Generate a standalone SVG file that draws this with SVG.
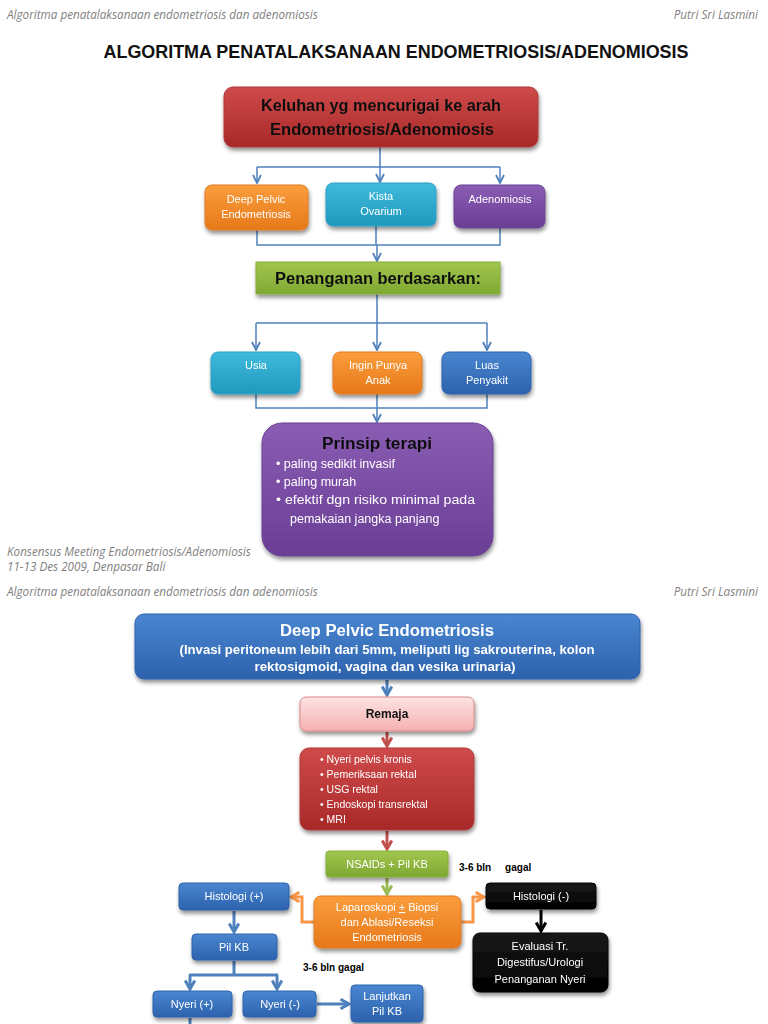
<svg xmlns="http://www.w3.org/2000/svg" width="768" height="1024" viewBox="0 0 768 1024">
<defs>
<style>
.hdr{font-family:"Open Sans","Liberation Sans",sans-serif;font-style:italic;font-size:11.7px;fill:#7f7f7f}
.t{font-family:"Liberation Sans",Arial,sans-serif;text-anchor:middle}
.w{fill:#ffffff}
.k{fill:#111111}
.b{font-weight:bold}
.s11{font-size:11px}
.bl{font-family:"Liberation Sans",Arial,sans-serif;font-size:10.5px;fill:#ffffff}
.c1{fill:none;stroke:#4f81bd;stroke-width:1.5}
.c3{fill:none;stroke-width:3}
</style>
<filter id="sh" x="-10%" y="-10%" width="130%" height="140%">
<feGaussianBlur in="SourceAlpha" stdDeviation="2"/>
<feOffset dx="1" dy="3" result="o"/>
<feComponentTransfer><feFuncA type="linear" slope="0.45"/></feComponentTransfer>
<feMerge><feMergeNode/><feMergeNode in="SourceGraphic"/></feMerge>
</filter>
<linearGradient id="gRed" x1="0" y1="0" x2="0" y2="1"><stop offset="0" stop-color="#cf4b4b"/><stop offset="1" stop-color="#a82828"/></linearGradient>
<linearGradient id="gOr" x1="0" y1="0" x2="0" y2="1"><stop offset="0" stop-color="#fb9d3c"/><stop offset="1" stop-color="#e6791a"/></linearGradient>
<linearGradient id="gCy" x1="0" y1="0" x2="0" y2="1"><stop offset="0" stop-color="#3fbbdc"/><stop offset="1" stop-color="#2198bd"/></linearGradient>
<linearGradient id="gPu" x1="0" y1="0" x2="0" y2="1"><stop offset="0" stop-color="#8a5db3"/><stop offset="1" stop-color="#6b3e96"/></linearGradient>
<linearGradient id="gGr" x1="0" y1="0" x2="0" y2="1"><stop offset="0" stop-color="#a2c64e"/><stop offset="1" stop-color="#7ea832"/></linearGradient>
<linearGradient id="gBl" x1="0" y1="0" x2="0" y2="1"><stop offset="0" stop-color="#4a86d0"/><stop offset="1" stop-color="#2d62ad"/></linearGradient>
<linearGradient id="gPk" x1="0" y1="0" x2="0" y2="1"><stop offset="0" stop-color="#fde3e3"/><stop offset="1" stop-color="#f6b0b0"/></linearGradient>
<linearGradient id="gBk" x1="0" y1="0" x2="0" y2="1"><stop offset="0" stop-color="#1a1a1a"/><stop offset="1" stop-color="#000000"/></linearGradient>
<marker id="aB" viewBox="0 0 10 10" refX="9" refY="5" markerWidth="10" markerHeight="10" markerUnits="userSpaceOnUse" orient="auto"><path d="M1,1 L9,5 L1,9" fill="none" stroke="#4f81bd" stroke-width="1.8"/></marker>
<marker id="aB2" viewBox="0 0 10 10" refX="8" refY="5" markerWidth="12" markerHeight="12" markerUnits="userSpaceOnUse" orient="auto"><path d="M1,1 L8,5 L1,9" fill="none" stroke="#4f81bd" stroke-width="2.5"/></marker>
<marker id="aR" viewBox="0 0 10 10" refX="8" refY="5" markerWidth="12" markerHeight="12" markerUnits="userSpaceOnUse" orient="auto"><path d="M1,1 L8,5 L1,9" fill="none" stroke="#c0504d" stroke-width="2.5"/></marker>
<marker id="aG" viewBox="0 0 10 10" refX="8" refY="5" markerWidth="12" markerHeight="12" markerUnits="userSpaceOnUse" orient="auto"><path d="M1,1 L8,5 L1,9" fill="none" stroke="#9bbb59" stroke-width="2.5"/></marker>
<marker id="aO" viewBox="0 0 10 10" refX="8" refY="5" markerWidth="12" markerHeight="12" markerUnits="userSpaceOnUse" orient="auto"><path d="M1,1 L8,5 L1,9" fill="none" stroke="#f79646" stroke-width="2.5"/></marker>
<marker id="aK" viewBox="0 0 10 10" refX="8" refY="5" markerWidth="12" markerHeight="12" markerUnits="userSpaceOnUse" orient="auto"><path d="M1,1 L8,5 L1,9" fill="none" stroke="#000000" stroke-width="2.5"/></marker>
</defs>
<rect width="768" height="1024" fill="#ffffff"/>

<!-- headers / footers -->
<text class="hdr" x="7" y="19">Algoritma penatalaksanaan endometriosis dan adenomiosis</text>
<text class="hdr" x="758" y="19" text-anchor="end">Putri Sri Lasmini</text>
<text class="t k b" x="396" y="58" font-size="19" textLength="585" lengthAdjust="spacingAndGlyphs">ALGORITMA PENATALAKSANAAN ENDOMETRIOSIS/ADENOMIOSIS</text>
<text class="hdr" x="7" y="556">Konsensus Meeting Endometriosis/Adenomiosis</text>
<text class="hdr" x="7" y="571">11-13 Des 2009, Denpasar Bali</text>
<text class="hdr" x="7" y="596">Algoritma penatalaksanaan endometriosis dan adenomiosis</text>
<text class="hdr" x="758" y="596" text-anchor="end">Putri Sri Lasmini</text>

<g id="connectors">
<path class="c1" d="M380,147 V167 M257,167 H500"/>
<path class="c1" d="M257,167 V183" marker-end="url(#aB)"/>
<path class="c1" d="M380,167 V182" marker-end="url(#aB)"/>
<path class="c1" d="M500,167 V183" marker-end="url(#aB)"/>
<path class="c1" d="M257,230 V245 H500 V228 M376,226 V245"/>
<path class="c1" d="M377,245 V261" marker-end="url(#aB)"/>
<path class="c1" d="M377,294 V323 M256,323 H487"/>
<path class="c1" d="M256,323 V350" marker-end="url(#aB)"/>
<path class="c1" d="M377,323 V350" marker-end="url(#aB)"/>
<path class="c1" d="M487,323 V350" marker-end="url(#aB)"/>
<path class="c1" d="M256,394 V408 H487 V394 M377,394 V408"/>
<path class="c1" d="M377,408 V422" marker-end="url(#aB)"/>

<path class="c3" stroke="#4f81bd" d="M387,680 V695" marker-end="url(#aB2)"/>
<path class="c3" stroke="#c0504d" d="M387,732 V746" marker-end="url(#aR)"/>
<path class="c3" stroke="#c0504d" d="M387,831 V849" marker-end="url(#aR)"/>
<path class="c3" stroke="#9bbb59" d="M387,878 V894" marker-end="url(#aG)"/>
<path class="c3" stroke="#f79646" d="M314,922 H302 V897 H291" marker-end="url(#aO)"/>
<path class="c3" stroke="#f79646" d="M461,922 H473 V897 H484" marker-end="url(#aO)"/>
<path class="c3" stroke="#000000" d="M541,910 V931" marker-end="url(#aK)"/>
<path class="c3" stroke="#4f81bd" d="M234,911 V932" marker-end="url(#aB2)"/>
<path class="c3" stroke="#4f81bd" d="M234,961 V975 M189,975 H278"/>
<path class="c3" stroke="#4f81bd" d="M190,975 V989" marker-end="url(#aB2)"/>
<path class="c3" stroke="#4f81bd" d="M277,975 V989" marker-end="url(#aB2)"/>
<path class="c3" stroke="#4f81bd" d="M317,1004 H349" marker-end="url(#aB2)"/>
<path class="c3" stroke="#4f81bd" d="M190,1018 V1024"/>
</g>

<g id="n-keluhan" filter="url(#sh)">
<rect x="224" y="87" width="314" height="60" rx="9" fill="url(#gRed)" stroke="#b03a3a"/>
<text class="t k" x="381" y="111" font-size="17" font-weight="600" font-family="Open Sans,Liberation Sans,sans-serif" textLength="240" lengthAdjust="spacingAndGlyphs">Keluhan yg mencurigai ke arah</text>
<text class="t k" x="382" y="135" font-size="17" font-weight="600" font-family="Open Sans,Liberation Sans,sans-serif" textLength="224" lengthAdjust="spacingAndGlyphs">Endometriosis/Adenomiosis</text>
</g>
<g id="n-dpe" filter="url(#sh)">
<rect x="205" y="185" width="103" height="45" rx="7" fill="url(#gOr)" stroke="#e07a20"/>
<text class="t w s11" x="256" y="203">Deep Pelvic</text>
<text class="t w s11" x="256" y="218">Endometriosis</text>
</g>
<g id="n-kista" filter="url(#sh)">
<rect x="326" y="183" width="110" height="43" rx="7" fill="url(#gCy)" stroke="#2aa0c4"/>
<text class="t w s11" x="381" y="200">Kista</text>
<text class="t w s11" x="381" y="215">Ovarium</text>
</g>
<g id="n-adeno" filter="url(#sh)">
<rect x="454" y="185" width="91" height="43" rx="7" fill="url(#gPu)" stroke="#6a4294"/>
<text class="t w s11" x="500" y="203">Adenomiosis</text>
</g>
<g id="n-penanganan" filter="url(#sh)">
<rect x="256" y="262" width="244" height="32" fill="url(#gGr)" stroke="#86ad3a"/>
<text class="t k b" x="378" y="284" font-size="16" textLength="206" lengthAdjust="spacingAndGlyphs">Penanganan berdasarkan:</text>
</g>
<g id="n-usia" filter="url(#sh)">
<rect x="211" y="352" width="89" height="42" rx="7" fill="url(#gCy)" stroke="#2aa0c4"/>
<text class="t w s11" x="256" y="369">Usia</text>
</g>
<g id="n-ingin" filter="url(#sh)">
<rect x="333" y="352" width="89" height="42" rx="7" fill="url(#gOr)" stroke="#e07a20"/>
<text class="t w s11" x="378" y="369">Ingin Punya</text>
<text class="t w s11" x="378" y="384">Anak</text>
</g>
<g id="n-luas" filter="url(#sh)">
<rect x="442" y="352" width="89" height="42" rx="7" fill="url(#gBl)" stroke="#2d62ad"/>
<text class="t w s11" x="487" y="369">Luas</text>
<text class="t w s11" x="487" y="384">Penyakit</text>
</g>
<g id="n-prinsip" filter="url(#sh)">
<rect x="262" y="423" width="231" height="133" rx="20" fill="url(#gPu)" stroke="#6a4294"/>
<text class="t k b" x="377" y="449" font-size="16" textLength="110" lengthAdjust="spacingAndGlyphs">Prinsip  terapi</text>
<text x="276" y="468" font-family="Liberation Sans,Arial,sans-serif" font-size="12.5" fill="#fff">• paling sedikit invasif</text>
<text x="276" y="486" font-family="Liberation Sans,Arial,sans-serif" font-size="12.5" fill="#fff">• paling murah</text>
<text x="276" y="504" font-family="Liberation Sans,Arial,sans-serif" font-size="12.5" fill="#fff" textLength="199" lengthAdjust="spacingAndGlyphs">• efektif dgn risiko minimal pada</text>
<text x="290" y="523" font-family="Liberation Sans,Arial,sans-serif" font-size="12.5" fill="#fff">pemakaian jangka panjang</text>
</g>

<g id="n-deep" filter="url(#sh)">
<rect x="135" y="614" width="505" height="65" rx="9" fill="url(#gBl)" stroke="#2d62ad"/>
<text class="t w b" x="387" y="636" font-size="16" textLength="214" lengthAdjust="spacingAndGlyphs">Deep  Pelvic Endometriosis</text>
<text class="t w b" x="387" y="654" font-size="13" textLength="415" lengthAdjust="spacingAndGlyphs">(Invasi peritoneum lebih dari 5mm, meliputi lig sakrouterina, kolon</text>
<text class="t w b" x="385" y="671" font-size="13" textLength="261" lengthAdjust="spacingAndGlyphs">rektosigmoid, vagina dan vesika urinaria)</text>
</g>
<g id="n-remaja" filter="url(#sh)">
<rect x="300" y="697" width="174" height="34" rx="6" fill="url(#gPk)" stroke="#d98a8a"/>
<text class="t k b" x="387" y="718" font-size="12">Remaja</text>
</g>
<g id="n-gejala" filter="url(#sh)">
<rect x="300" y="748" width="174" height="82" rx="9" fill="url(#gRed)" stroke="#b03a3a"/>
<text class="bl" x="320" y="763">• Nyeri pelvis kronis</text>
<text class="bl" x="320" y="778">• Pemeriksaan rektal</text>
<text class="bl" x="320" y="793">• USG rektal</text>
<text class="bl" x="320" y="808">• Endoskopi transrektal</text>
<text class="bl" x="320" y="823">• MRI</text>
</g>
<g id="n-nsaids" filter="url(#sh)">
<rect x="326" y="851" width="122" height="26" rx="3" fill="url(#gGr)" stroke="#86ad3a"/>
<text class="t w s11" x="387" y="868">NSAIDs + Pil KB</text>
</g>
<text x="459" y="871" font-family="Liberation Sans,Arial,sans-serif" font-size="10" font-weight="bold" fill="#000" xml:space="preserve">3-6 bln     gagal</text>
<g id="n-laparo" filter="url(#sh)">
<rect x="314" y="896" width="147" height="52" rx="7" fill="url(#gOr)" stroke="#e07a20"/>
<text class="t w s11" x="387" y="911">Laparoskopi <tspan text-decoration="underline">+</tspan> Biopsi</text>
<text class="t w s11" x="387" y="926">dan Ablasi/Reseksi</text>
<text class="t w s11" x="387" y="941">Endometriosis</text>
</g>
<g id="n-histplus" filter="url(#sh)">
<rect x="179" y="883" width="110" height="27" rx="4" fill="url(#gBl)" stroke="#2d62ad"/>
<text class="t w s11" x="234" y="900">Histologi (+)</text>
</g>
<g id="n-histmin" filter="url(#sh)">
<rect x="486" y="883" width="110" height="26" rx="4" fill="url(#gBk)" stroke="#000"/>
<text class="t w s11" x="541" y="900">Histologi (-)</text>
</g>
<g id="n-evaluasi" filter="url(#sh)">
<rect x="473" y="933" width="135" height="59" rx="7" fill="url(#gBk)" stroke="#000"/>
<text class="t w s11" x="540" y="950">Evaluasi Tr.</text>
<text class="t w s11" x="540" y="966">Digestifus/Urologi</text>
<text class="t w s11" x="540" y="983">Penanganan Nyeri</text>
</g>
<g id="n-pilkb" filter="url(#sh)">
<rect x="192" y="934" width="85" height="26" rx="4" fill="url(#gBl)" stroke="#2d62ad"/>
<text class="t w s11" x="234" y="951">Pil KB</text>
</g>
<text x="303" y="971" font-family="Liberation Sans,Arial,sans-serif" font-size="10" font-weight="bold" fill="#000">3-6 bln gagal</text>
<g id="n-nyeriplus" filter="url(#sh)">
<rect x="153" y="991" width="79" height="26" rx="4" fill="url(#gBl)" stroke="#2d62ad"/>
<text class="t w s11" x="192" y="1008">Nyeri (+)</text>
</g>
<g id="n-nyerimin" filter="url(#sh)">
<rect x="243" y="991" width="73" height="26" rx="4" fill="url(#gBl)" stroke="#2d62ad"/>
<text class="t w s11" x="280" y="1008">Nyeri (-)</text>
</g>
<g id="n-lanjutkan" filter="url(#sh)">
<rect x="351" y="985" width="72" height="37" rx="4" fill="url(#gBl)" stroke="#2d62ad"/>
<text class="t w s11" x="387" y="1000">Lanjutkan</text>
<text class="t w s11" x="387" y="1015">Pil KB</text>
</g>
</svg>
